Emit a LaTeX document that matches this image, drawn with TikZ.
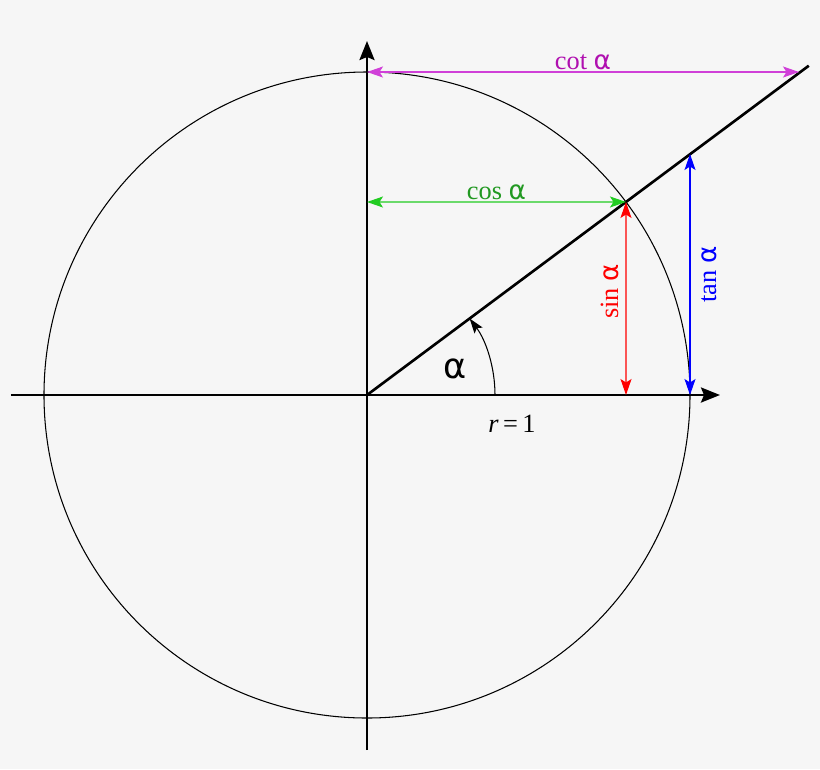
\documentclass[tikz,border=0pt]{standalone}
\usepackage{fontspec}
\setmainfont{Liberation Serif}
\newfontfamily\greekfont{DejaVu Sans}
\usepackage{tikz}
\usetikzlibrary{arrows.meta,positioning}
\definecolor{bgcol}{HTML}{F6F6F6}
\definecolor{cotcol}{HTML}{D040D8}
\definecolor{cottxt}{HTML}{B010B0}
\definecolor{coscol}{HTML}{22CC22}
\definecolor{costxt}{HTML}{229922}
\newcommand{\alp}{{\greekfont α}}
\tikzset{
  axis/.style={line width=1.5pt, -{Stealth[length=0.38cm,width=0.3cm,inset=0.06cm]}},
  measure/.style={line width=0.7pt, {Stealth[length=0.32cm,width=0.22cm,inset=0.07cm]}-{Stealth[length=0.32cm,width=0.22cm,inset=0.07cm]}},
  lbl/.style={font=\fontsize{15}{17}\selectfont, inner sep=1pt},
}
\begin{document}
\begin{tikzpicture}[x=0.02cm, y=0.02cm, thin]
    \fill[bgcol] (-367,-374) rectangle (453,395);
    \useasboundingbox (-367,-374) rectangle (453,395);

    \coordinate (O) at (0,0);
    \coordinate (P) at (36.7:323);      % point on the circle
    \coordinate (Px) at (259,0);
    \coordinate (Py) at (0,193);
    \coordinate (T) at (323,241);       % tangent point
    \coordinate (Tx) at (323,0);
    \coordinate (K) at (432,323);       % cotangent point
    \coordinate (Ky) at (0,323);
    \coordinate (E) at (36.7:551);
    \coordinate (xl) at (-356,0);
    \coordinate (xr) at (353,0);
    \coordinate (yb) at (0,-355);
    \coordinate (yt) at (0,354);

    \draw[line width=0.6pt] (O) circle (323);
    \draw[axis] (xl) -- (xr);
    \draw[axis] (yb) -- (yt);
    \draw[line width=1.5pt] (O) -- (E);

    % the angle
    \draw[line width=0.6pt, -{Stealth[length=0.3cm,width=0.2cm,inset=0.06cm]}] (128,0) arc (0:36.7:128);
    \node[font=\fontsize{20}{22}\selectfont\greekfont] (alpha) at (88,26) {α};
    \node[lbl] (r) at (145,-29) {\textit{r}\,=\,1};

    % the measures
    \draw[measure, cotcol] (Ky) -- (K) node[midway, above, lbl, text=cottxt] (cot) {cot \alp};
    \draw[measure, coscol] (Py) -- (P) node[midway, above, lbl, text=costxt] (cos) {cos \alp};
    \draw[measure, red] (Px) -- (P) node[midway, rotate=90, anchor=south, lbl, yshift=3pt, xshift=4pt] (sin) {sin \alp};
    \draw[measure, blue] (Tx) -- (T) node[midway, rotate=90, anchor=north, lbl, yshift=-5pt] (tan) {tan \alp};
\end{tikzpicture}
\end{document}
